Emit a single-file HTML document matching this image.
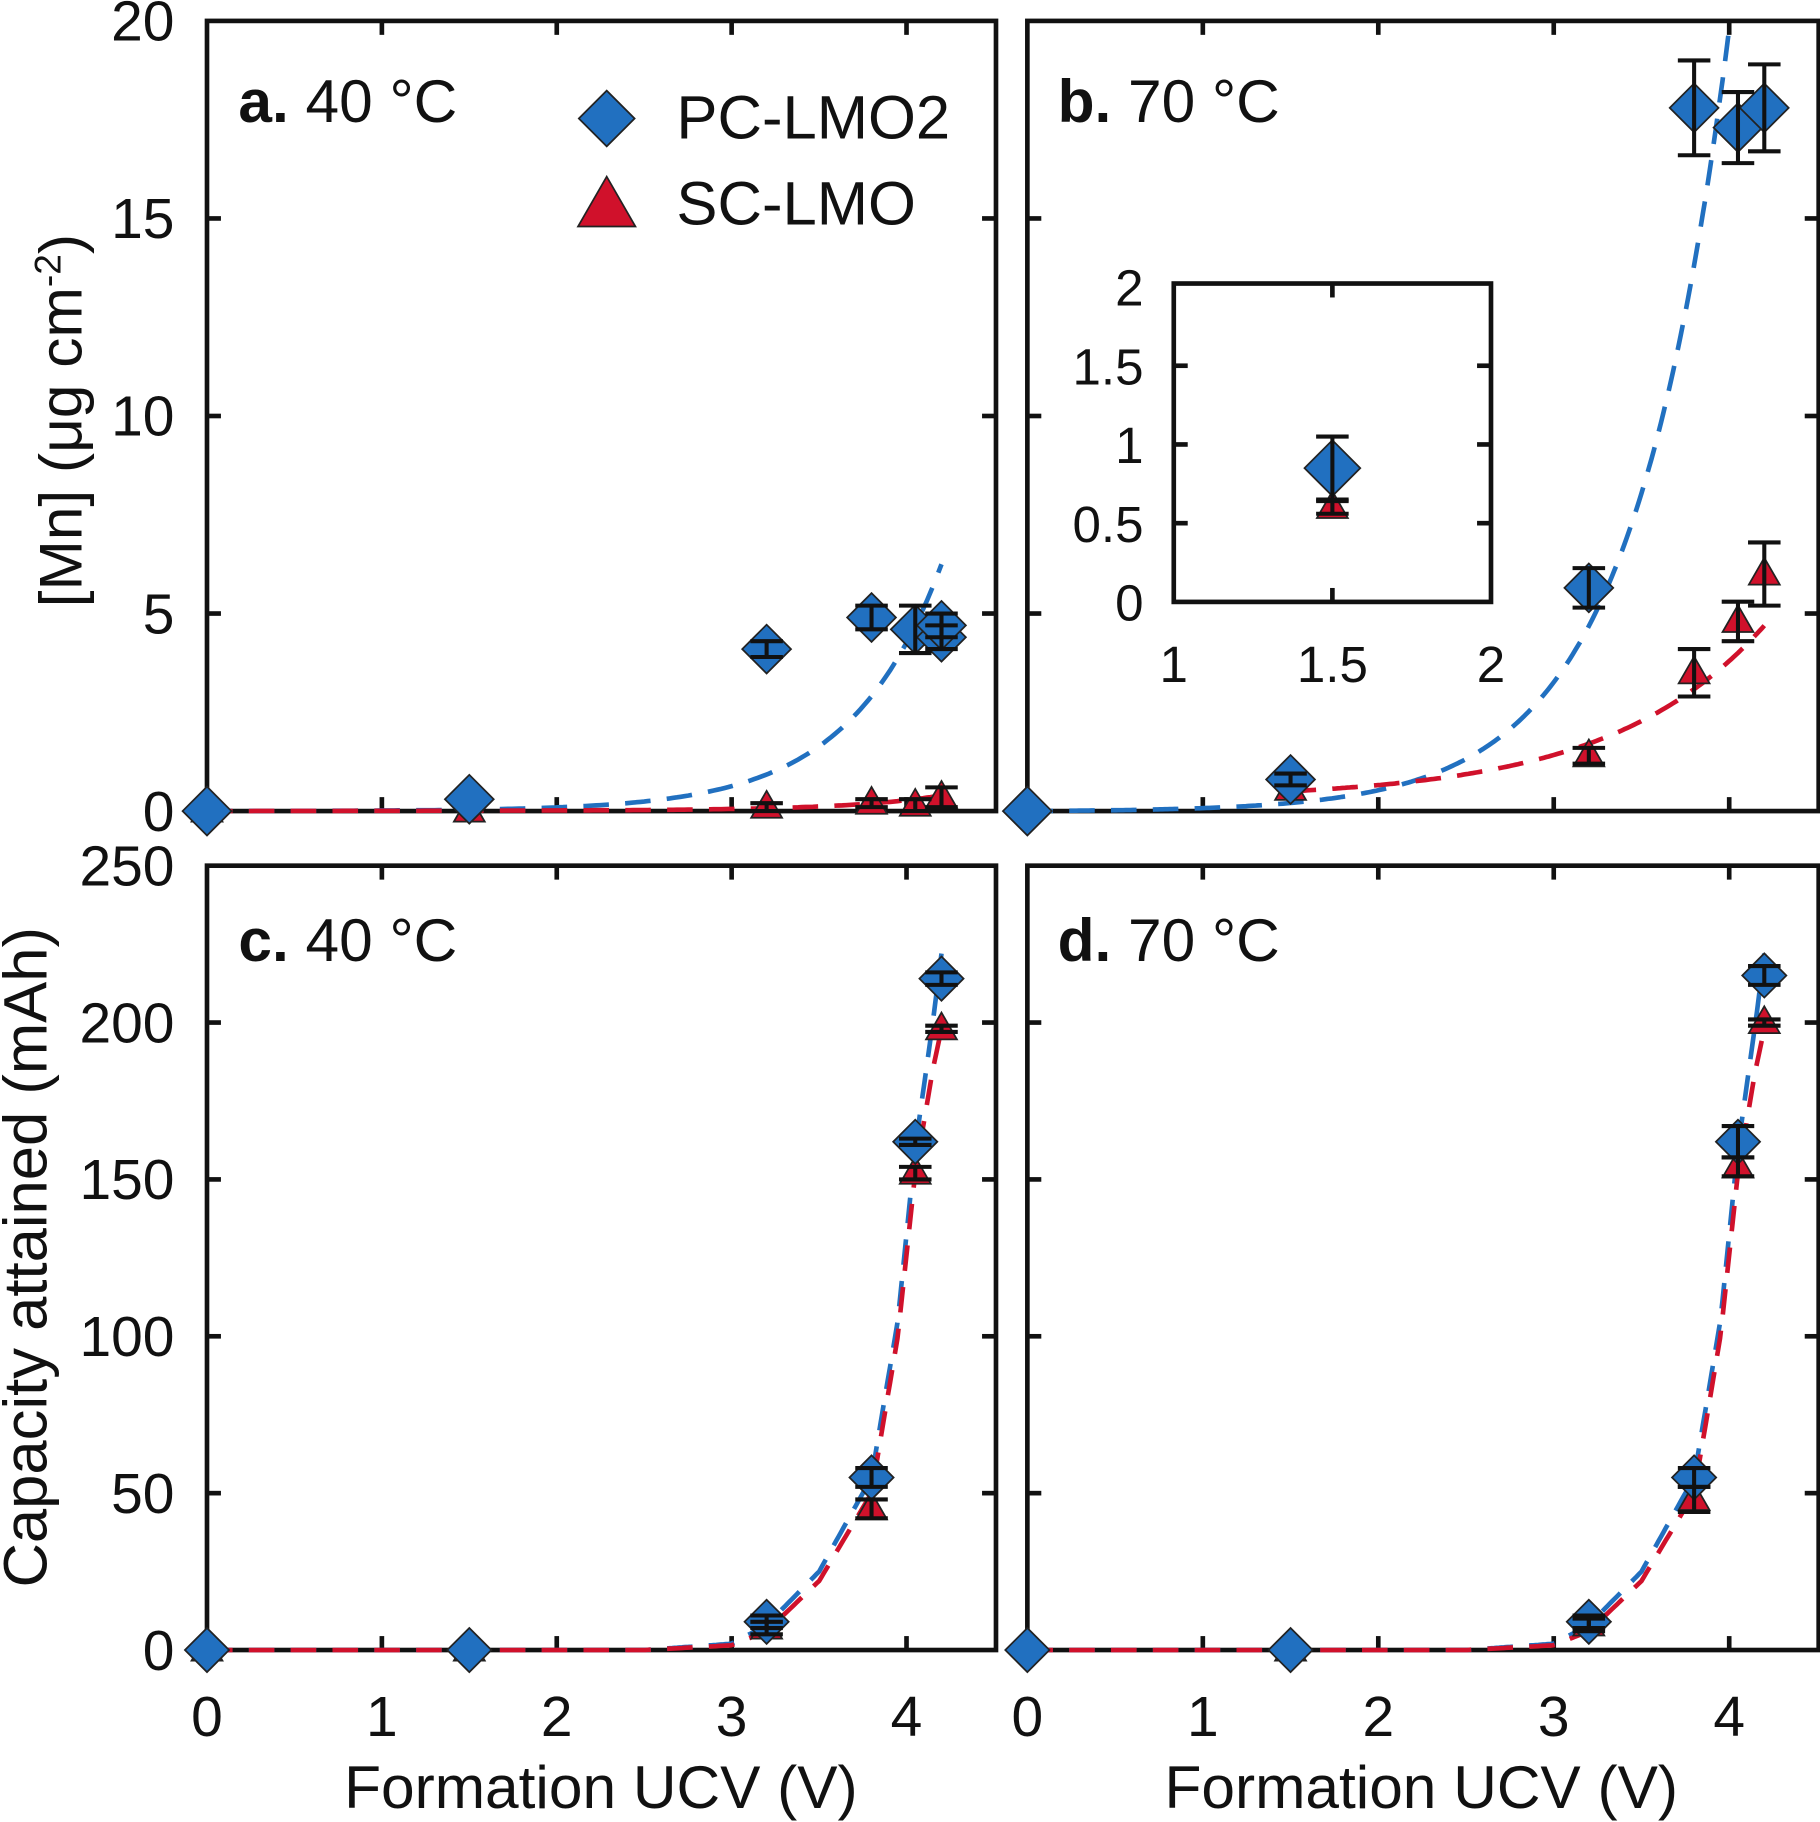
<!DOCTYPE html>
<html><head><meta charset="utf-8"><style>
html,body{margin:0;padding:0;background:#fff;}
svg{display:block;}
text{font-family:"Liberation Sans",Arial,sans-serif;fill:#111;}
</style></head><body>
<svg id="s" width="1820" height="1822" viewBox="0 0 1566 1568" xmlns="http://www.w3.org/2000/svg">
<rect width="1566" height="1568" fill="#fff"/>
<g id="g"></g>
</svg>
<script>
const NS="http://www.w3.org/2000/svg";
const g=document.getElementById('g');
function el(t,a,txt){const e=document.createElementNS(NS,t);for(const k in a)e.setAttribute(k,a[k]);if(txt!==undefined)e.textContent=txt;g.appendChild(e);return e;}
const BLUE="#2170c0",RED="#d0112b";
function panel(P){
  el('rect',{x:P.l,y:P.t,width:P.r-P.l,height:P.b-P.t,fill:'none',stroke:'#111','stroke-width':4});
  const X=v=>P.x0+v*P.sx, Y=v=>P.b-(v/P.ymax)*(P.b-P.t);
  P.X=X;P.Y=Y;
  for(let i=1;i<=4;i++){const x=X(i);el('line',{x1:x,x2:x,y1:P.b,y2:P.b-12,stroke:'#111','stroke-width':4});el('line',{x1:x,x2:x,y1:P.t,y2:P.t+12,stroke:'#111','stroke-width':4});}
  P.yt.forEach(v=>{const y=Y(v);el('line',{x1:P.l,x2:P.l+12,y1:y,y2:y,stroke:'#111','stroke-width':4});el('line',{x1:P.r,x2:P.r-12,y1:y,y2:y,stroke:'#111','stroke-width':4});});
  return P;
}
function curve(P,f,a,b,col,n=200){let d='';for(let i=0;i<=n;i++){const v=a+(b-a)*i/n;let y=f(v);if(y>P.ymax*1.0)break;d+=(i?'L':'M')+P.X(v).toFixed(1)+' '+P.Y(y).toFixed(1);}el('path',{d,fill:'none',stroke:col,'stroke-width':4,'stroke-dasharray':'22 14'});}
function interp(pts){return v=>{if(v<=pts[0][0])return pts[0][1];for(let i=1;i<pts.length;i++){if(v<=pts[i][0]){const[a,b]=[pts[i-1],pts[i]];const t=(v-a[0])/(b[0]-a[0]);return a[1]+t*(b[1]-a[1]);}}return pts[pts.length-1][1];};}
function err(P,x,y,e){if(!e)return;const px=P.X(x),y1=P.Y(y+e),y2=P.Y(y-e);el('line',{x1:px,x2:px,y1,y2,stroke:'#111','stroke-width':3.5});[y1,y2].forEach(yy=>el('line',{x1:px-14,x2:px+14,y1:yy,y2:yy,stroke:'#111','stroke-width':3.5}));}
function dia(cx,cy,r){el('path',{d:`M${cx} ${cy-r}L${cx+r} ${cy}L${cx} ${cy+r}L${cx-r} ${cy}Z`,fill:BLUE,stroke:'#222','stroke-width':1.5});}
function tri(cx,cy,r){el('path',{d:`M${cx} ${cy-r}L${cx+r*0.95} ${cy+r*0.65}L${cx-r*0.95} ${cy+r*0.65}Z`,fill:RED,stroke:'#222','stroke-width':1.5});}
function pts(P,bl,rd,rb=21,rr=14){
  rd.forEach(p=>{tri(P.X(p[0]),P.Y(p[1]),rr);});
  bl.forEach(p=>{dia(P.X(p[0]),P.Y(p[1]),rb);});
  rd.forEach(p=>err(P,p[0],p[1],p[2]));
  bl.forEach(p=>err(P,p[0],p[1],p[2]));
}
const a=panel({x0:178,sx:150.5,l:178,r:857,t:18,b:698,ymax:20,yt:[5,10,15]});
const b=panel({x0:884,sx:151,l:884,r:1565,t:18,b:698,ymax:20,yt:[5,10,15]});
const c=panel({x0:178,sx:150.5,l:178,r:857,t:745,b:1420,ymax:250,yt:[50,100,150,200]});
const d=panel({x0:884,sx:151,l:884,r:1565,t:745,b:1420,ymax:250,yt:[50,100,150,200]});
curve(a,v=>0.00205*Math.exp(1.91*v),0,4.2,BLUE);
curve(a,v=>0.00205*Math.exp(1.91*v)*0.06+0.005*v,0,4.2,RED);
curve(b,v=>0.0148*Math.exp(1.8*v)-0.0148,0,4.2,BLUE,300);
curve(b,v=>0.3+0.0366*Math.exp(1.14*v),1.5,4.2,RED);
const capB=interp([[0,0],[2.5,0],[3.0,2],[3.2,8],[3.5,25],[3.8,55],[3.95,105],[4.05,160],[4.15,200],[4.2,222]]);
const capR=interp([[0,0],[2.5,0],[3.0,1.5],[3.2,6],[3.5,22],[3.8,50],[3.95,100],[4.05,152],[4.15,185],[4.2,198]]);
[c,d].forEach(P=>{curve(P,capB,0,4.2,BLUE,300);curve(P,capR,0,4.2,RED,300);});
pts(a,[[0,0],[1.5,0.3],[3.2,4.1,0.2],[3.8,4.9,0.3],[4.05,4.6,0.6],[4.2,4.4,0.3],[4.2,4.7,0.3]],[[0,0],[1.5,0],[3.2,0.1,0.1],[3.8,0.2,0.1],[4.05,0.15,0.15],[4.2,0.35,0.25]]);
pts(b,[[0,0],[1.5,0.8,0.15],[3.2,5.65,0.5],[3.8,17.8,1.2],[4.05,17.3,0.9],[4.2,17.8,1.1]],[[1.5,0.55],[3.2,1.4,0.2],[3.8,3.5,0.6],[4.05,4.8,0.5],[4.2,6.0,0.8]]);
pts(c,[[0,0],[1.5,0],[3.2,9,2],[3.8,55,3],[4.05,162,1],[4.2,214,2]],[[0,0],[1.5,0],[3.2,7,2],[3.8,45,3],[4.05,152,2],[4.2,198,1]],19);
pts(d,[[0,0],[1.5,0],[3.2,9,2],[3.8,55,3],[4.05,162,5],[4.2,215,3]],[[1.5,0],[3.2,8,2],[3.8,48,4],[4.05,154,3],[4.2,200,1]],19);
const I={x0:1010-273,sx:273};
el('rect',{x:1010,y:244,width:273,height:274,fill:'#fff',stroke:'#111','stroke-width':4});
I.X=v=>I.x0+v*I.sx;I.Y=v=>518-v*135.5;
[1.5].forEach(v=>{const x=I.X(v);el('line',{x1:x,x2:x,y1:518,y2:506,stroke:'#111','stroke-width':4});el('line',{x1:x,x2:x,y1:244,y2:256,stroke:'#111','stroke-width':4});});
[0.5,1,1.5].forEach(v=>{const y=I.Y(v);el('line',{x1:1010,x2:1022,y1:y,y2:y,stroke:'#111','stroke-width':4});el('line',{x1:1283,x2:1271,y1:y,y2:y,stroke:'#111','stroke-width':4});});
tri(I.X(1.5),I.Y(0.6),14);dia(I.X(1.5),I.Y(0.85),24);err(I,1.5,0.6,0.04);err(I,1.5,0.85,0.2);
[['2',0],['1.5',0.5],['1',1],['0.5',1.5],['0',2]].forEach(([t,k])=>el('text',{x:984,y:I.Y(2-k)+16,'font-size':44,'text-anchor':'end'},t));
[['1',1],['1.5',1.5],['2',2]].forEach(([t,v])=>el('text',{x:I.X(v),y:587,'font-size':44,'text-anchor':'middle'},t));
[['20',20],['15',15],['10',10],['5',5],['0',0]].forEach(([t,v])=>el('text',{x:150,y:a.Y(v)+17,'font-size':49,'text-anchor':'end'},t));
[['250',250],['200',200],['150',150],['100',100],['50',50],['0',0]].forEach(([t,v])=>el('text',{x:150,y:c.Y(v)+17,'font-size':49,'text-anchor':'end'},t));
[0,1,2,3,4].forEach(v=>{el('text',{x:c.X(v),y:1494,'font-size':49,'text-anchor':'middle'},String(v));el('text',{x:d.X(v),y:1494,'font-size':49,'text-anchor':'middle'},String(v));});
el('text',{x:517,y:1556,'font-size':52,'text-anchor':'middle'},'Formation UCV (V)');
el('text',{x:1223,y:1556,'font-size':52,'text-anchor':'middle'},'Formation UCV (V)');
const t1=el('text',{transform:'translate(70,362) rotate(-90)','font-size':52,'text-anchor':'middle'});t1.innerHTML='[Mn] (μg cm<tspan font-size="32" dy="-18">-2</tspan><tspan dy="18">)</tspan>';
el('text',{transform:'translate(40,1082) rotate(-90)','font-size':53,'text-anchor':'middle'},'Capacity attained (mAh)');
[[205,105,'a.',' 40 °C'],[910,105,'b.',' 70 °C'],[205,827,'c.',' 40 °C'],[910,827,'d.',' 70 °C']].forEach(([x,y,l,r])=>{const t=el('text',{x,y,'font-size':52});t.innerHTML='<tspan font-weight="bold">'+l+'</tspan>'+r;});
dia(522,102,24);tri(522,178,26);
el('text',{x:582,y:119,'font-size':53},'PC-LMO2');
el('text',{x:582,y:193,'font-size':53},'SC-LMO');
</script>
</body></html>
